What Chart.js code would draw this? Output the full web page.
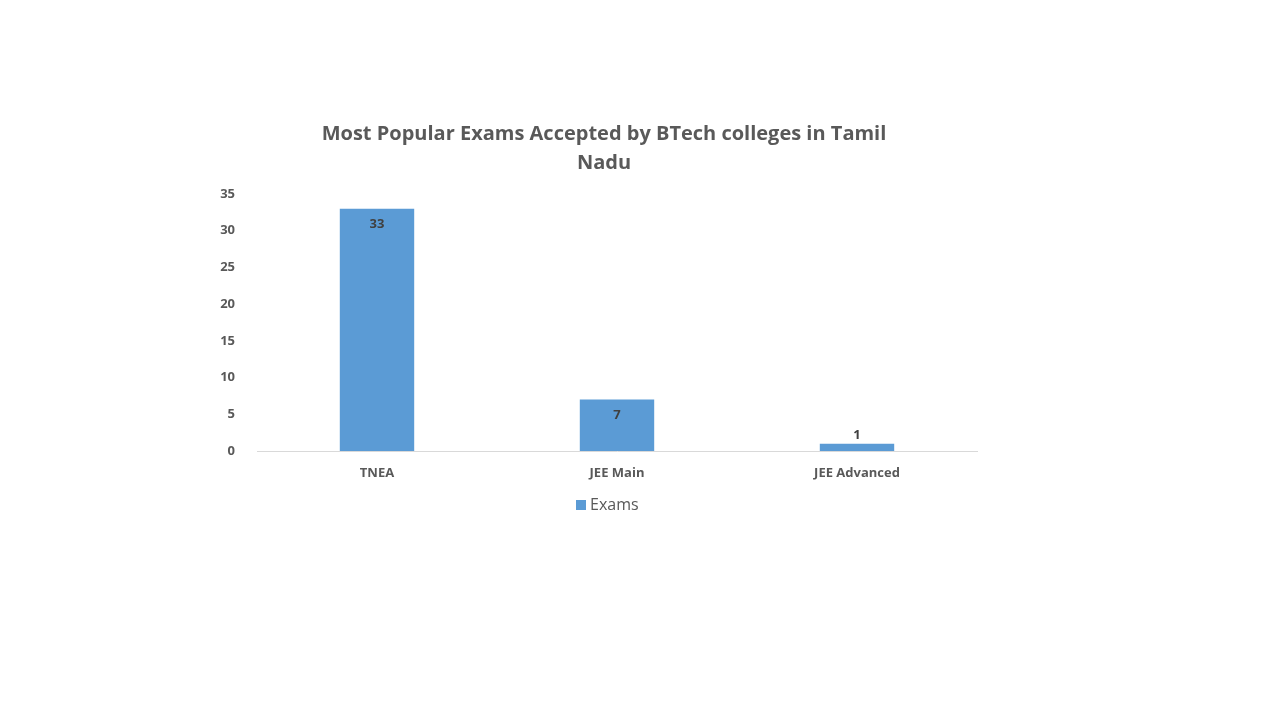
<!DOCTYPE html>
<html>
<head>
<meta charset="utf-8">
<script src="https://cdn.jsdelivr.net/npm/chart.js@4/dist/chart.umd.min.js"></script>
<style>
  html, body { margin: 0; padding: 0; background: #fff; }
  #wrap { width: 1280px; height: 720px; }
</style>
</head>
<body>
<div id="wrap"><canvas id="c" width="1280" height="720"></canvas></div>
<script>
const categories = ["TNEA", "JEE Main", "JEE Advanced"]
const examCounts = [33, 7, 1]
const yTicks = [0, 5, 10, 15, 20, 25, 30, 35]
const titleLines = ["Most Popular Exams Accepted by BTech colleges in Tamil", "Nadu"]
const seriesName = "Exams"

const FONT = "'Open Sans', 'Liberation Sans', sans-serif"
const BAR = "#5b9bd5"
const TEXT = "#595959"

// title, legend and value labels drawn over the chart
const decorations = {
  id: "decorations",
  afterDatasetsDraw(chart) {
    const ctx = chart.ctx
    ctx.save()
    ctx.textAlign = "center"
    ctx.textBaseline = "middle"
    ctx.fillStyle = TEXT
    ctx.font = "bold 20px " + FONT
    ctx.fillText(titleLines[0], 604, 134)
    ctx.fillText(titleLines[1], 604, 163)

    ctx.fillStyle = "#404040"
    ctx.font = "bold 13px " + FONT
    chart.getDatasetMeta(0).data.forEach((bar, i) => {
      const v = examCounts[i]
      const y = v > 3 ? bar.y + 16 : bar.y - 8
      ctx.fillText(String(v), bar.x, y)
    })

    ctx.fillStyle = BAR
    ctx.fillRect(576, 500, 10, 10)
    ctx.fillStyle = TEXT
    ctx.font = "16px " + FONT
    ctx.textAlign = "left"
    ctx.fillText(seriesName, 590, 505)
    ctx.restore()
  }
}

new Chart(document.getElementById("c"), {
  type: "bar",
  data: {
    labels: categories,
    datasets: [{
      label: seriesName,
      data: examCounts,
      backgroundColor: BAR,
      barPercentage: 0.31,
      categoryPercentage: 1,
    }],
  },
  options: {
    responsive: false,
    animation: false,
    layout: { padding: { left: 207, right: 303, top: 194, bottom: 239 } },
    plugins: { legend: { display: false }, tooltip: { enabled: false }, title: { display: false } },
    scales: {
      x: {
        grid: { display: false },
        border: { color: "#d9d9d9" },
        ticks: { color: TEXT, font: { family: FONT, size: 13, weight: "bold" }, padding: 6 },
        afterFit(axis) { axis.height = 30 },
      },
      y: {
        min: 0,
        max: 35,
        afterBuildTicks(axis) { axis.ticks = yTicks.map(v => ({ value: v })) },
        grid: { display: false },
        border: { display: false },
        ticks: { color: TEXT, font: { family: FONT, size: 13, weight: "bold" }, padding: 14 },
        afterFit(axis) { axis.width = 50 },
      },
    },
  },
  plugins: [decorations],
})
</script>
</body>
</html>
